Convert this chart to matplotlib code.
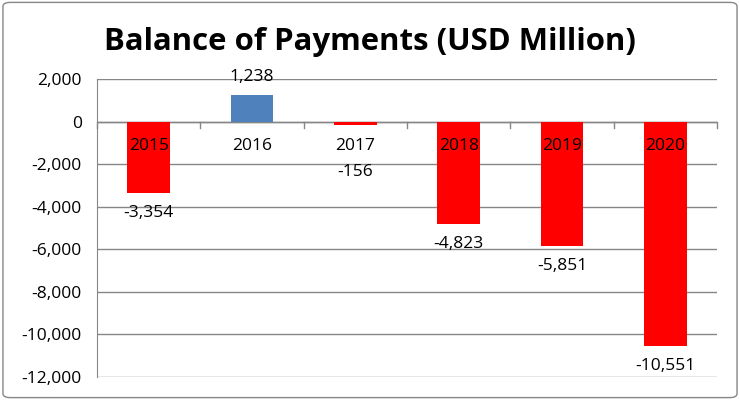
import matplotlib.pyplot as plt
from matplotlib.patches import FancyBboxPatch

years = ['2015', '2016', '2017', '2018', '2019', '2020']
balance = [-3354, 1238, -156, -4823, -5851, -10551]
bar_colors = ['#FF0000', '#4F81BD', '#FF0000', '#FF0000', '#FF0000', '#FF0000']
yticks = [2000, 0, -2000, -4000, -6000, -8000, -10000, -12000]


def main() -> None:
    plt.rcParams['font.family'] = ['Open Sans', 'DejaVu Sans']
    fig = plt.figure(figsize=(7.4, 4.0), dpi=100)
    # ramka wokol wykresu
    border = FancyBboxPatch((0.004, 0.006), 0.992, 0.988,
                            boxstyle='round,pad=0,rounding_size=0.01',
                            transform=fig.transFigure, fill=False,
                            edgecolor='#868686', linewidth=1.0)
    fig.patches.append(border)

    ax = fig.add_axes([97 / 740, 1 - 377 / 400, 620 / 740, 298 / 400])
    x = range(len(years))
    ax.bar(x, balance, width=0.41, color=bar_colors, zorder=3)
    ax.set_xlim(-0.5, len(years) - 0.5)
    ax.set_ylim(-12000, 2000)
    ax.set_yticks(yticks)
    ax.set_yticklabels([f'{v:,}' for v in yticks], fontsize=12.5)
    ax.grid(axis='y', color='#868686', linewidth=1.0, zorder=0)
    ax.axhline(0, color='#868686', linewidth=1.0, zorder=2)
    for s in ['top', 'right', 'bottom']:
        ax.spines[s].set_visible(False)
    ax.spines['left'].set_color('#868686')
    ax.tick_params(axis='y', length=0, pad=11)
    ax.set_xticks([])

    # znaczniki na osi zerowej
    for b in range(len(years) + 1):
        ax.plot([b - 0.5, b - 0.5], [0, -280], color='#868686', lw=1.0,
                zorder=2, clip_on=False)

    for i, v in enumerate(balance):
        ax.text(i, -1130, years[i], ha='center', va='center', fontsize=12.5,
                zorder=4)
        if v >= 0:
            ly = v + 850
        else:
            ly = v - 940
            # etykieta nie moze wejsc na nazwe kategorii
            if ly > -2000:
                ly = -2390
        ax.text(i, ly, f'{v:,}', ha='center', va='center', fontsize=12.5,
                zorder=4)

    fig.text(0.5, 0.895, 'Balance of Payments (USD Million)', ha='center',
             va='center', fontsize=22.4, fontweight='bold')
    fig.savefig('out.png', dpi=100)


if __name__ == "__main__":
    main()
